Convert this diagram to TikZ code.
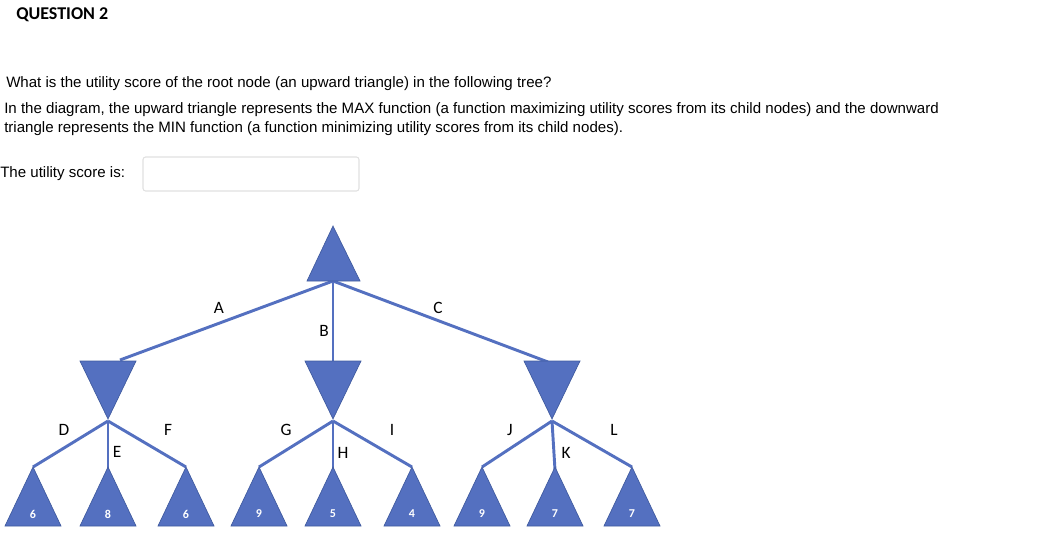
\documentclass[tikz,border=0pt]{standalone}
\usepackage{fontspec}
\setmainfont{Liberation Sans}
\newfontfamily\carlitofont{Carlito}
\definecolor{tri}{HTML}{5470C0}
\definecolor{triedge}{HTML}{3F5A9E}
\begin{document}
\begin{tikzpicture}[x=0.75pt,y=-0.75pt,
  edge/.style={tri,line width=2.2pt},
  lbl/.style={font=\carlitofont\fontsize{13}{13}\selectfont,inner sep=0pt},
  val/.style={font=\carlitofont\bfseries\fontsize{9}{9}\selectfont,text=white,inner sep=0pt},
  body/.style={font=\fontsize{11.3}{13}\selectfont,anchor=west,inner sep=0pt}]
\useasboundingbox (0,0) rectangle (1045,542);
\node[anchor=west,inner sep=0pt,font=\carlitofont\bfseries\fontsize{13.5}{14}\selectfont] (title) at (16,15) {QUESTION 2};
\node[body] (q1) at (6,84) {What is the utility score of the root node (an upward triangle) in the following tree?};
\node[body] (q2) at (4,110) {In the diagram, the upward triangle represents the MAX function (a function maximizing utility scores from its child nodes) and the downward};
\node[body] (q3) at (4,129) {triangle represents the MIN function (a function minimizing utility scores from its child nodes).};
\node[body] (q4) at (0,174) {The utility score is:};
\draw[rounded corners=2pt,black!12,line width=0.8pt] (143,157) rectangle (359,191);
% root
\coordinate (rb) at (333,281);
\coordinate (ma) at (120,360); \coordinate (mb) at (333,362); \coordinate (mc) at (548,362);
\draw[edge] (rb)--(ma); \draw[edge] (rb)--(mb); \draw[edge] (rb)--(mc);
\filldraw[fill=tri,draw=triedge,line width=0.5pt] (333,226)--(360,281)--(307,281)--cycle;
% min nodes and leaves
\foreach \cx/\ap/\ax/\bx/\cxx/\va/\vb/\vc in {108/108/33/108/186/6/8/6, 333/333/259/333/412/9/5/4, 552/552/482/555/632/9/7/7}{
  \draw[edge] (\ap,421)--(\ax,467);
  \draw[edge] (\ap,421)--(\bx,470);
  \draw[edge] (\ap,421)--(\cxx,467);
  \filldraw[fill=tri,draw=triedge,line width=0.5pt] (\cx-28,361)--(\cx+28,361)--(\cx,419)--cycle;
  \foreach \lx/\lv in {\ax/\va,\bx/\vb,\cxx/\vc}{
    \filldraw[fill=tri,draw=triedge,line width=0.5pt] (\lx,467)--(\lx+28,526)--(\lx-28,526)--cycle;
    \node[val] at (\lx,514) {\lv};
  }
}
\node[lbl] (A) at (219,308) {A};
\node[lbl] (B) at (324,331) {B};
\node[lbl] (C) at (438,308) {C};
\node[lbl] (D) at (64,430) {D};
\node[lbl] (E) at (117,452) {E};
\node[lbl] (F) at (168,430) {F};
\node[lbl] (G) at (286,430) {G};
\node[lbl] (H) at (343,453) {H};
\node[lbl] (I) at (392,430) {I};
\node[lbl] (J) at (510,430) {J};
\node[lbl] (K) at (566,453) {K};
\node[lbl] (L) at (614,430) {L};
\end{tikzpicture}
\end{document}
